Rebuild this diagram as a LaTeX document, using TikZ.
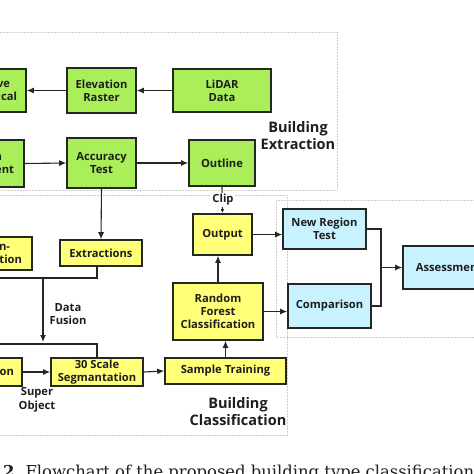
\documentclass[tikz,border=0pt]{standalone}
\usepackage{fontspec}
\setmainfont{Open Sans}
\newfontfamily\capfont{DejaVu Serif}
\usetikzlibrary{arrows.meta}
\definecolor{boxgreen}{RGB}{170,238,90}
\definecolor{boxyellow}{RGB}{255,255,120}
\definecolor{boxblue}{RGB}{200,242,255}
\definecolor{edge}{RGB}{35,40,35}
\definecolor{framegray}{RGB}{205,205,205}
\definecolor{ink}{RGB}{30,30,30}
\begin{document}
\begin{tikzpicture}[x=1pt,y=-1pt,
 box/.style={draw=edge, line width=1.6pt, text=ink, font=\bfseries\fontsize{11.2}{13}\selectfont, align=center, inner sep=0pt},
 gbox/.style={box, fill=boxgreen},
 ybox/.style={box, fill=boxyellow},
 bbox/.style={box, fill=boxblue},
 conn/.style={draw=edge, line width=1.1pt},
 arr/.style={conn, -{Latex[length=7pt,width=6pt]}},
 frame/.style={draw=framegray, line width=0.8pt, dash pattern=on 2pt off 1pt},
 lbl/.style={text=ink, font=\bfseries\fontsize{11.2}{13.5}\selectfont, align=center, inner sep=0pt},
 title/.style={text=ink, font=\bfseries\fontsize{14.5}{17}\selectfont, align=center, inner sep=0pt}]
\useasboundingbox (0,0) rectangle (474,474);
\clip (0,0) rectangle (474,474);
\fill[white] (0,0) rectangle (474,474);
% frames
\draw[frame] (-5,32) rectangle (337,190);
\draw[frame] (-5,195) rectangle (287,435);
\draw[frame] (276,200) rectangle (480,337);
% boxes
\node[gbox, minimum width=66pt, minimum height=43pt, text width=48pt, align=right] (left1) at (-7,90.5) {\mbox{ve\kern7pt}\\ical};
\node[gbox, minimum width=69pt, minimum height=45pt] (elev) at (101.5,90.5) {Elevation\\Raster};
\node[gbox, minimum width=98pt, minimum height=43pt] (lidar) at (222,90.5) {LiDAR\\Data};
\node[gbox, minimum width=64pt, minimum height=47pt, text width=44pt, align=right] (left2) at (-8,163.5) {\mbox{n\kern12pt}\\ent};
\node[gbox, minimum width=69pt, minimum height=50pt] (acc) at (101.5,163) {Accuracy\\Test};
\node[gbox, minimum width=66pt, minimum height=46pt] (outline) at (222,163) {Outline};
\node[ybox, minimum width=72pt, minimum height=33pt, text width=52pt, align=right] (left3) at (-4,253.5) {\mbox{n-\kern12pt}\\tion};
\node[ybox, minimum width=82pt, minimum height=26pt] (extr) at (101,253) {Extractions};
\node[ybox, minimum width=62pt, minimum height=28pt, text width=46pt, align=right] (left4) at (-9,372) {on};
\node[ybox, minimum width=92pt, minimum height=28pt] (seg) at (97,372) {30 Scale\\Segmantation};
\node[ybox, minimum width=121pt, minimum height=26pt] (sample) at (225.5,371) {Sample Training};
\node[ybox, minimum width=90pt, minimum height=57pt] (rf) at (218,311.5) {Random\\Forest\\Classification};
\node[ybox, minimum width=59pt, minimum height=41pt] (output) at (222.5,234.5) {Output};
\node[bbox, minimum width=83pt, minimum height=40pt] (newreg) at (324.5,229) {New Region\\Test};
\node[bbox, minimum width=83pt, minimum height=44pt] (comp) at (329.5,306) {Comparison};
\node[bbox, minimum width=92pt, minimum height=43pt] (assess) at (449,267.5) {Assessment};
% connectors
\draw[arr] (lidar.west) -- (elev.east);
\draw[arr] (elev.west) -- (left1.east);
\draw[arr] (left2.east) -- (acc.west);
\draw[arr] (acc.east) -- (outline.west);
\draw[arr] (acc.south) -- (extr.north);
\draw[conn, -{Latex[length=4pt,width=3.5pt]}] (outline.south) -- (output.north);
\node[lbl, fill=white, inner sep=1.5pt] (clip) at (223,200) {Clip};
\coordinate (j1) at (97,278);
\coordinate (j2) at (43,278);
\coordinate (j3) at (43,342);
\coordinate (j4) at (-5,344);
\draw[conn] (left3.south) |- (j1) -- (j1 |- extr.south);
\draw[arr] (j2) -- (j3);
\draw[conn] (j4) -| (seg.north);
\node[lbl] (fusion) at (68,314) {Data\\Fusion};
\draw[arr] (left4.east) -- (seg.west);
\node[lbl] (super) at (37,400) {Super\\Object};
\draw[arr] (seg.east) -- (sample.west);
\draw[arr] (sample.north) -- (sample.north |- rf.south);
\draw[arr] (rf.north) -- (rf.north |- output.south);
\draw[arr] (output.east) -- (output.east -| newreg.west);
\draw[arr] (rf.east) -- (rf.east -| comp.west);
\coordinate (k1) at (381,267.5);
\draw[conn] (newreg.east) -| (k1) |- (comp.east);
\draw[arr] (k1) -- (assess.west);
% titles
\node[title] (btitle1) at (298,136) {Building\\Extraction};
\node[title] (btitle2) at (238,412) {Building\\Classification};
% caption
\node[anchor=base west, inner sep=0pt, text=ink, font=\capfont\fontsize{16.4}{19}\selectfont] (cap) at (3,477.5) {\textbf{2.}\ Flowchart of the proposed building type classification};
\end{tikzpicture}
\end{document}
